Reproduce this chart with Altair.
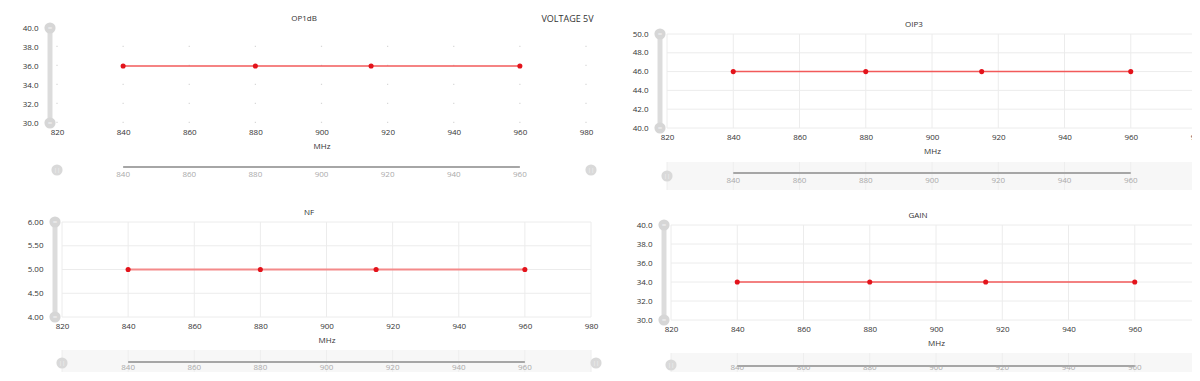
import altair as alt
import pandas as pd

# ---- data ----
freq = [840, 880, 915, 960]
op1db = [36.0, 36.0, 36.0, 36.0]
oip3 = [46.0, 46.0, 46.0, 46.0]
nf = [5.0, 5.0, 5.0, 5.0]
gain = [34.0, 34.0, 34.0, 34.0]

x_ticks = [820, 840, 860, 880, 900, 920, 940, 960, 980]
slider_ticks = [840, 860, 880, 900, 920, 940, 960]
op1db_ticks = [30, 32, 34, 36, 38, 40]
oip3_ticks = [40, 42, 44, 46, 48, 50]
nf_ticks = [4.0, 4.5, 5.0, 5.5, 6.0]
gain_ticks = [30, 32, 34, 36, 38, 40]
voltage_label = ["VOLTAGE 5V"]

FONT = "Open Sans"
DARK = "#333333"


def panel(title, values, yticks, yfmt, ox, oy, vis_w, vis_h, dotted, band,
          line_off, handle_off, label_off, band_top, title_x, title_y,
          line_color, line_width, voltage=False, right_glyph=True):
    W = ox + vis_w
    H = oy + vis_h
    xmin, xmax = x_ticks[0], x_ticks[-1]
    ymin, ymax = yticks[0], yticks[-1]
    xscale = alt.Scale(domain=[xmin, xmax], range=[ox, W], nice=False, zero=False)
    yscale = alt.Scale(domain=[ymin, ymax], range=[H, oy], nice=False, zero=False)
    xaxis = alt.Axis(values=x_ticks, format="d", labelFontSize=8, labelColor=DARK,
                     labelFont=FONT, labelPadding=5, labelFlush=False, labelOverlap=False,
                     title="MHz", titleFontSize=8, titleFont=FONT, titleFontWeight="normal",
                     titleColor=DARK, titlePadding=6, titleX=ox + vis_w / 2,
                     domain=False, ticks=False, grid=False)
    yaxis = alt.Axis(values=yticks, format=yfmt, labelFontSize=8, labelColor=DARK,
                     labelFont=FONT, labelPadding=19, labelFlush=False, labelOverlap=False,
                     offset=-ox, title=None, domain=False, ticks=False, grid=False)

    def X(field="freq:Q"):
        return alt.X(field, scale=xscale, axis=xaxis)

    def Y(field="val:Q"):
        return alt.Y(field, scale=yscale, axis=yaxis)

    main = pd.DataFrame({"freq": freq, "val": values})
    one = pd.DataFrame({"k": [0]})
    layers = []

    # grid
    gx = pd.DataFrame({"freq": x_ticks, "lo": [ymin] * len(x_ticks), "hi": [ymax] * len(x_ticks)})
    if dotted:
        layers.append(alt.Chart(gx).mark_rule(color="#d8d8d8", strokeWidth=1.2,
                                              strokeDash=[1.2, 17.8]).encode(
            x=X(), y=Y("lo:Q"), y2="hi:Q"))
    else:
        layers.append(alt.Chart(gx).mark_rule(color="#ececec", strokeWidth=1).encode(
            x=X(), y=Y("lo:Q"), y2="hi:Q"))
        gy = pd.DataFrame({"val": yticks, "l": [xmin] * len(yticks), "r": [xmax] * len(yticks)})
        layers.append(alt.Chart(gy).mark_rule(color="#ececec", strokeWidth=1).encode(
            y=Y(), x=X("l:Q"), x2="r:Q"))

    # slider band
    if band:
        bd = pd.DataFrame({"l": [xmin], "r": [xmax]})
        layers.append(alt.Chart(bd).mark_rect(color="#f7f7f7").encode(
            x=X("l:Q"), x2="r:Q", y=alt.value(H + band_top), y2=alt.value(H + 62)))
        layers.append(alt.Chart(pd.DataFrame({"freq": x_ticks})).mark_rule(
            color="#eeeeee", strokeWidth=1).encode(
            x=X(), y=alt.value(H + band_top), y2=alt.value(H + 62)))

    # slider line + labels
    layers.append(alt.Chart(main).mark_rule(color="#a6a6a6", strokeWidth=2).encode(
        x=X("min(freq):Q"), x2="max(freq)", y=alt.value(H + line_off)))
    layers.append(alt.Chart(pd.DataFrame({"freq": slider_ticks})).mark_text(
        fontSize=8, font=FONT, color="#aaaaaa", baseline="middle").encode(
        x=X(), y=alt.value(H + label_off), text=alt.Text("freq:Q", format="d")))

    # horizontal slider handles
    for hx, glyph in ((ox, True), (W + 5, right_glyph)):
        layers.append(alt.Chart(one).mark_circle(size=125, color="#d9d9d9", opacity=1).encode(
            x=alt.value(hx), y=alt.value(H + handle_off)))
        if glyph:
            layers.append(alt.Chart(one).mark_text(text="||", fontSize=6, color="#f3f3f3",
                                                   baseline="middle").encode(
                x=alt.value(hx), y=alt.value(H + handle_off)))

    # vertical slider
    vb = pd.DataFrame({"lo": [ymin], "hi": [ymax]})
    layers.append(alt.Chart(vb).mark_rule(color="#dcdcdc", strokeWidth=5).encode(
        x=alt.value(ox - 7), y=Y("lo:Q"), y2="hi:Q"))
    vh = pd.DataFrame({"val": [ymin, ymax]})
    layers.append(alt.Chart(vh).mark_circle(size=125, color="#d6d6d6", opacity=1).encode(
        x=alt.value(ox - 7), y=Y()))
    layers.append(alt.Chart(vh).mark_text(text="=", fontSize=8, color="#f3f3f3",
                                          baseline="middle").encode(
        x=alt.value(ox - 7), y=Y()))

    # series
    layers.append(alt.Chart(main).mark_line(color=line_color, strokeWidth=line_width).encode(
        x=X(), y=Y()))
    layers.append(alt.Chart(main).mark_circle(size=26, color="#e3131b", opacity=1).encode(
        x=X(), y=Y()))

    # panel title
    layers.append(alt.Chart(pd.DataFrame({"t": [title]})).mark_text(
        fontSize=8, font=FONT, color=DARK, baseline="middle", align="center").encode(
        x=alt.value(title_x), y=alt.value(title_y), text="t:N"))

    if voltage:
        layers.append(alt.Chart(pd.DataFrame({"t": voltage_label})).mark_text(
            fontSize=9, font=FONT, color=DARK, baseline="middle", align="center").encode(
            x=alt.value(ox + 510.5), y=alt.value(oy - 9), text="t:N"))

    return alt.layer(*layers).properties(width=W, height=H)


p1 = panel("OP1dB", op1db, op1db_ticks, ".1f", 0, 0, 529, 95, True, False,
           44, 47, 52, 34, 247, -8.7, "#f25a5a", 1.5, voltage=True)
p2 = panel("OIP3", oip3, oip3_ticks, ".1f", 0, 6, 530, 94, False, True,
           45, 48, 52.5, 34, 247, -3, "#f25a5a", 1.5, right_glyph=False)
p3 = panel("NF", nf, nf_ticks, ".2f", 5, 0, 529, 95, False, True,
           45, 46, 50.5, 33, 252, -8.7, "#f48a8a", 2.2)
p4 = panel("GAIN", gain, gain_ticks, ".1f", 4, 3, 530, 95, False, True,
           46, 45, 47.5, 33, 251, -5.7, "#f25a5a", 1.5, right_glyph=False)

SVG_W = 1184
SVG_H = 364
PAD_L = 49
PAD_T = 20

chart = alt.concat(p1, p2, p3, p4, columns=2, spacing={"row": 94, "column": 76},
                   bounds="flush", align="none").properties(
    autosize=alt.AutoSizeParams(type="none"),
    padding={"left": PAD_L, "top": PAD_T, "right": SVG_W - PAD_L, "bottom": SVG_H - PAD_T}
).configure(font=FONT, view=alt.ViewConfig(stroke=None))

chart.save("out.html", embed_options={"renderer": "svg", "actions": False})
